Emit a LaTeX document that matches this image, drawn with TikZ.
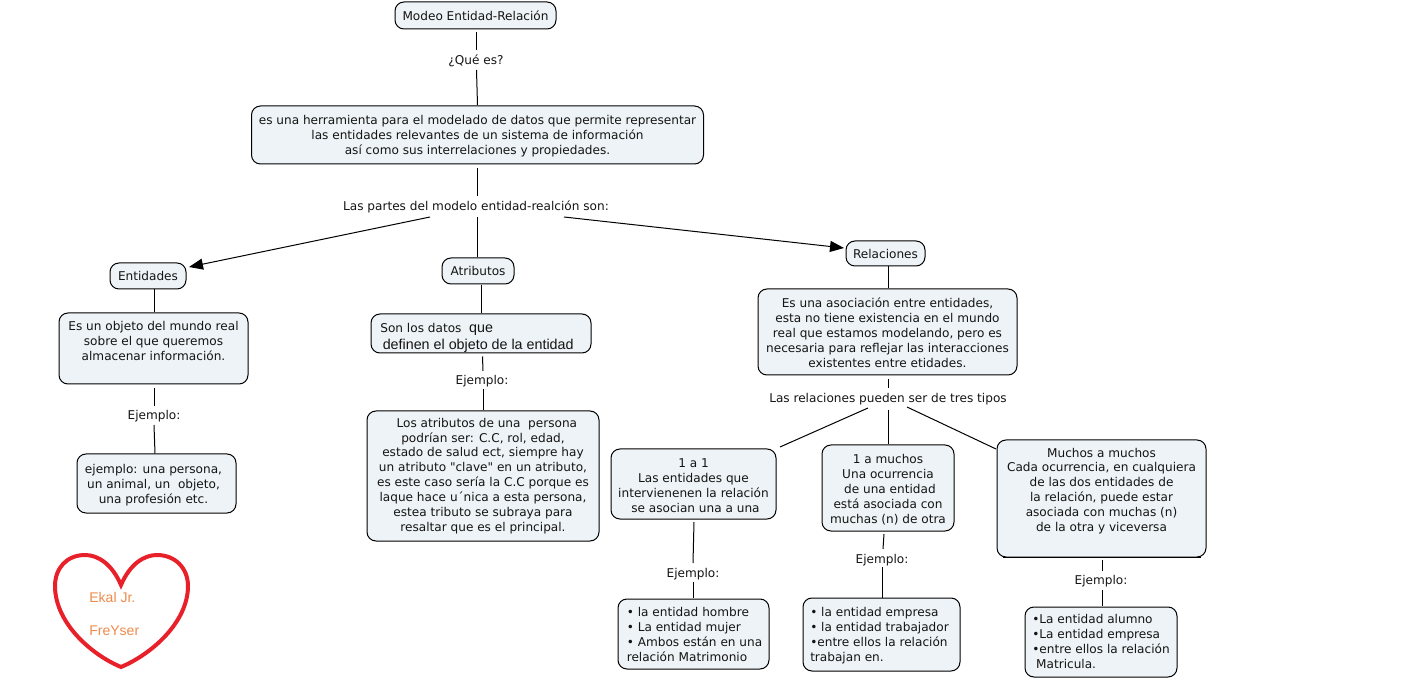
\documentclass[tikz,border=0pt]{standalone}
\usepackage{fontspec}
\setmainfont{DejaVu Sans}
\newfontfamily\plainf{DejaVu Sans}
\newfontfamily\arialf{Liberation Sans}
\usetikzlibrary{arrows.meta}
\definecolor{boxfill}{HTML}{EDF3F6}
\definecolor{heartred}{HTML}{E8202A}
\definecolor{signo}{HTML}{EE8A4A}
\definecolor{ink}{HTML}{141414}
\newcommand{\lk}[7][]{\draw[conn,#1] ([shift={(#3,#4)}]#2.center) -- ([shift={(#6,#7)}]#5.center);}
% text block: column type, horizontal shift (twice the real shift), raise, lines
\newcommand{\tx}[4][c]{\makebox[0pt][c]{\hspace*{#2}\raisebox{\dimexpr#3-2.5pt\relax}[0pt][0pt]{\begin{tabular}{@{}#1@{}}#4\end{tabular}}}}
\newcommand{\arl}{\arialf\fontsize{7.15pt}{8pt}\selectfont}
\tikzset{
  base/.style={font=\fontsize{6.05pt}{7.5pt}\selectfont,text=ink,align=center,inner sep=0pt},
  cbox/.style 2 args={base,draw=black,line width=0.5pt,fill=boxfill,rounded corners=4.5pt,
     minimum width=#1*0.5pt,minimum height=#2*0.5pt},
  lab/.style={base},
  conn/.style={draw=black,line width=0.5pt},
  arr/.style={-{Triangle[length=7pt,width=5.5pt]}},
}
\begin{document}
\begin{tikzpicture}[x=0.5pt,y=-0.5pt]
\useasboundingbox (0,0) rectangle (1415,684);
\node[cbox={161}{27}] (t) at (475.5,15.5) {\tx{0pt}{-0.25pt}{Modeo Entidad-Relación}};
\node[lab] (qe) at (476,60) {\tx{0pt}{0pt}{¿Qué es?}};
\node[cbox={452}{58}] (d) at (477.5,135) {\tx{0pt}{0pt}{es una herramienta para el modelado de datos que permite representar\\las entidades relevantes de un sistema de información\\así como sus interrelaciones y propiedades.}};
\node[lab] (p) at (476,205) {\tx{0pt}{-0.5pt}{Las partes del modelo entidad-realción son:}};
\node[cbox={76}{26}] (ent) at (148,276) {\tx{0pt}{0pt}{Entidades}};
\node[cbox={72}{26}] (a) at (478,271) {\tx{0pt}{0pt}{Atributos}};
\node[cbox={79}{25}] (rel) at (885.5,253.5) {\tx{0pt}{0pt}{Relaciones}};
\node[cbox={189}{71}] (e1) at (153.5,348.5) {\tx{0pt}{4pt}{Es un objeto del mundo real\\sobre el que queremos\\almacenar información.}};
\node[lab] (ee) at (154,415) {\tx{0pt}{0pt}{Ejemplo:}};
\node[cbox={159}{59}] (e2) at (156.5,483.5) {\tx{-3pt}{0pt}{ejemplo: una persona,\\un animal, un\ \ objeto,\\una profesión etc.}};
\node[cbox={220}{39}] (a1) at (481,333.5) {\tx[l]{-4pt}{-1.5pt}{Son los datos\ \ {\arl que}\\[1pt]\hspace{1.2pt}{\arl definen el objeto de la entidad}}};
\node[lab] (ae) at (482,380) {\tx{0pt}{0.25pt}{Ejemplo:}};
\node[cbox={232}{130}] (a2) at (483,476) {\tx{0pt}{0.75pt}{\ \ Los atributos de una\ \ persona\\podrían ser: C.C, rol, edad,\\estado de salud ect, siempre hay\\un atributo {\plainf"clave"} en un atributo,\\es este caso sería la C.C porque es\\laque hace u´nica a esta persona,\\estea tributo se subraya para\\resaltar que es el principal.}};
\node[cbox={259}{86}] (r1) at (887.5,332) {\tx{0pt}{-0.5pt}{Es una asociación entre entidades,\\esta no tiene existencia en el mundo\\real que estamos modelando, pero es\\necesaria para reflejar las interacciones\\existentes entre etidades.}};
\node[lab] (rl) at (888,397) {\tx{0pt}{-0.25pt}{Las relaciones pueden ser de tres tipos}};
\node[cbox={165}{70}] (c1) at (693.5,484) {\tx{0pt}{-0.5pt}{1 a 1\\Las entidades que\\intervienenen la relación\\\ se asocian una a una}};
\node[cbox={132}{86}] (c2) at (888,488) {\tx{0pt}{0pt}{1 a muchos\\Una ocurrencia\\\ de una entidad\\está asociada con\\muchas (n) de otra}};
\node[cbox={209}{117}] (c3) at (1101.5,498.5) {\tx{0pt}{4.5pt}{Muchos a muchos\\Cada ocurrencia, en cualquiera\\de las dos entidades de\\la relación, puede estar\\asociada con muchas (n)\\de la otra y viceversa}};
\node[lab] (c1e) at (693,572) {\tx{0pt}{0pt}{Ejemplo:}};
\node[lab] (c2e) at (882,558) {\tx{0pt}{0pt}{Ejemplo:}};
\node[lab] (c3e) at (1101,580) {\tx{0pt}{0.25pt}{Ejemplo:}};
\node[cbox={151}{70}] (l1) at (693.5,634) {\tx[l]{1pt}{0pt}{• la entidad hombre\\• La entidad mujer\\• Ambos están en una\\relación Matrimonio}};
\node[cbox={157}{73}] (l2) at (881.5,634.5) {\tx[l]{-2pt}{0.5pt}{• la entidad empresa\\• la entidad trabajador\\•entre ellos la relación\\trabajan en.}};
\node[cbox={152}{70}] (l3) at (1101,642) {\tx[l]{0pt}{0.5pt}{•La entidad alumno\\•La entidad empresa\\•entre ellos la relación\\\ Matricula.}};
\draw[black,line width=0.9pt] ([xshift=3pt]c3.south west) -- ([xshift=-3pt]c3.south east);
% connectors
\lk{t}{1}{16.5}{qe}{0.5}{-10}
\lk{qe}{0.5}{10}{d}{0}{-30}
\lk{d}{0}{33}{p}{1.5}{-9}
\lk[arr]{p}{-46}{12}{ent}{41}{-9}
\lk{p}{1.5}{12}{a}{-0.5}{-14}
\lk[arr]{p}{88}{12}{rel}{-41.5}{-5.5}
\lk{ent}{6}{13}{e1}{0.5}{-36}
\lk{e1}{0.5}{39.5}{ee}{0}{-9}
\lk{ee}{0}{10}{e2}{-1.5}{-30}
\lk{a}{3}{14}{a1}{0}{-20.5}
\lk{a1}{1.5}{23}{ae}{1}{-9}
\lk{ae}{1}{9}{a2}{0}{-66}
\lk{rel}{2.5}{13}{r1}{0.5}{-44}
\lk{r1}{0.5}{47}{rl}{0}{-9}
\lk{rl}{-20}{11}{c1}{86.5}{-37}
\lk{rl}{0}{13}{c2}{0}{-44}
\lk{rl}{19}{10}{c3}{-105.5}{-49.5}
\lk{c1}{0.5}{38}{c1e}{0}{-9}
\lk{c1e}{0}{10}{l1}{-0.5}{-36}
\lk{c2}{-4}{46}{c2e}{1}{-9}
\lk{c2e}{0}{9}{l2}{0.5}{-37}
\lk{c3}{0.5}{61.5}{c3e}{1}{-9}
\lk{c3e}{1}{10}{l3}{1}{-36}
% heart
\draw[heartred,line width=2pt,line join=miter] (121,585)
  .. controls (112,564) and (98,555) .. (85,555)
  .. controls (67,555) and (55,568) .. (55,586)
  .. controls (55,622) and (90,654) .. (121,667)
  .. controls (152,654) and (188,622) .. (188,586)
  .. controls (188,568) and (175,555) .. (157,555)
  .. controls (144,555) and (130,564) .. (121,585) -- cycle;
\node[font=\arialf\fontsize{7pt}{8pt}\selectfont,text=signo,anchor=west,inner sep=0pt] (sa) at (89,597) {Ekal Jr.};
\node[font=\arialf\fontsize{7pt}{8pt}\selectfont,text=signo,anchor=west,inner sep=0pt] (sb) at (89,631) {FreYser};
\end{tikzpicture}
\end{document}
